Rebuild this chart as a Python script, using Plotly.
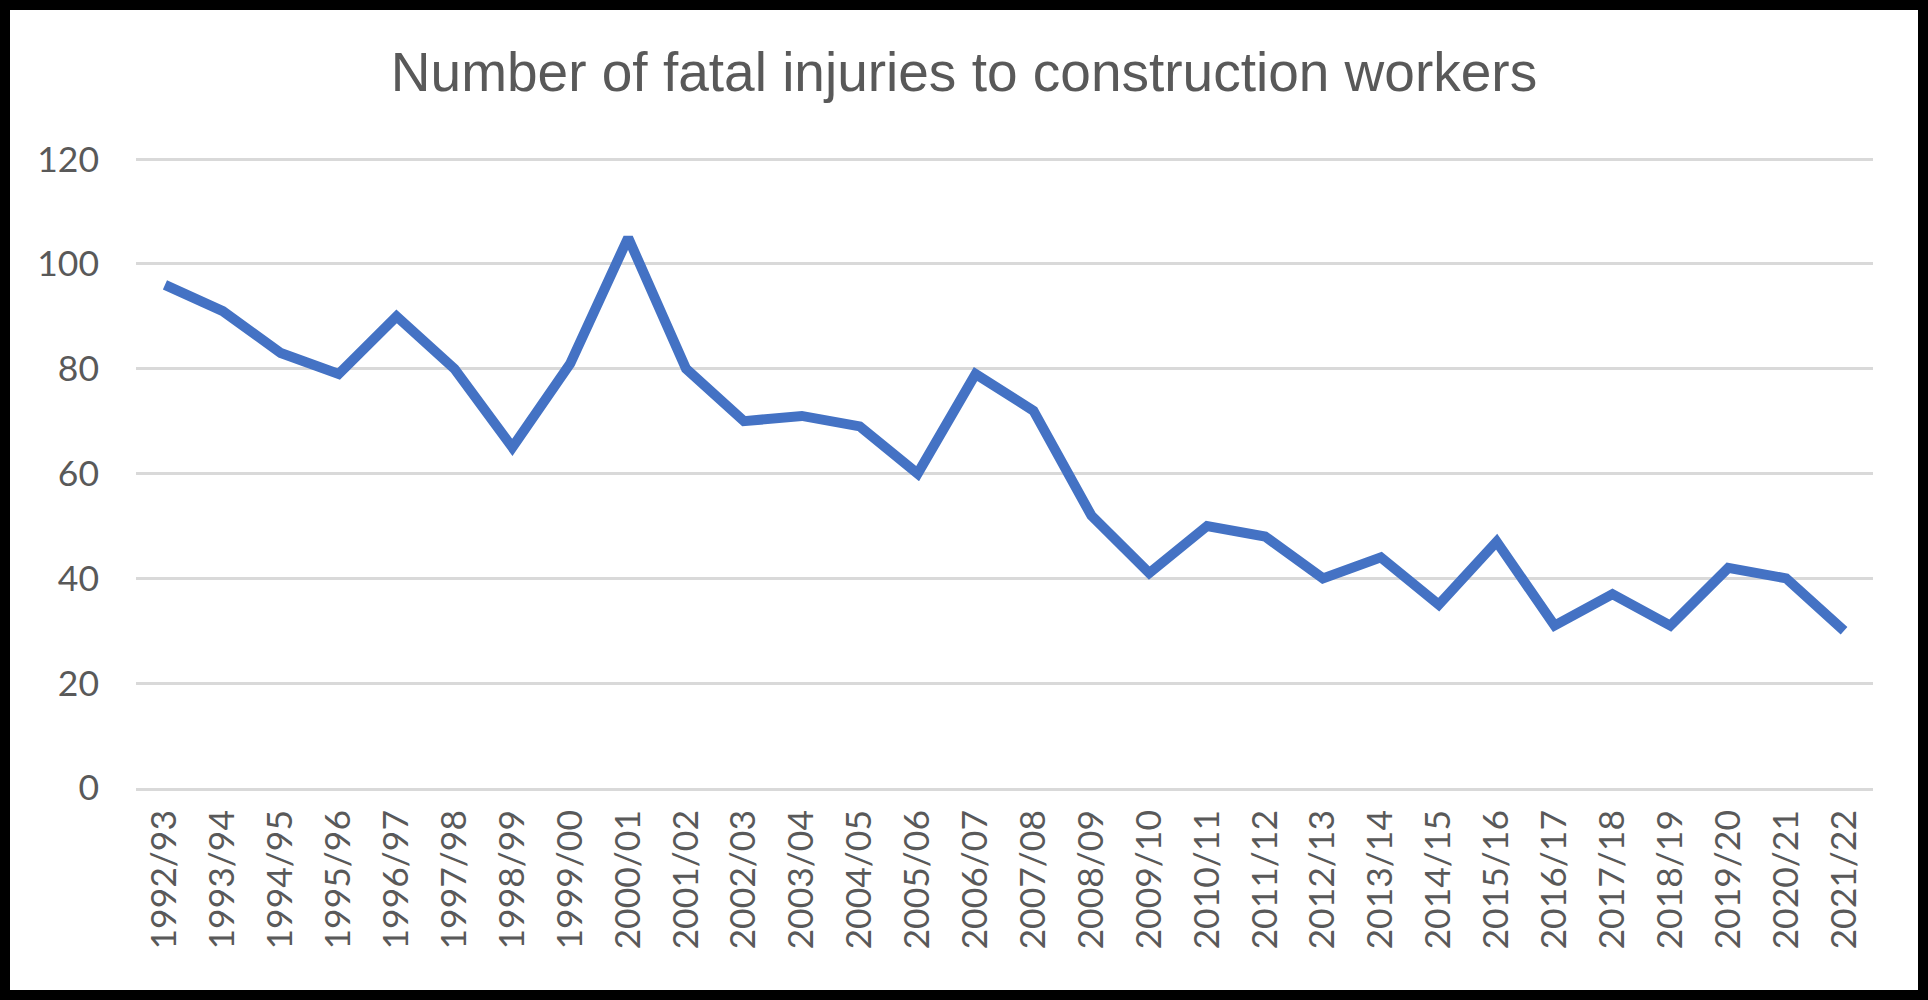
import plotly.graph_objects as go

# Financial years and fatal injuries
years = ['1992/93', '1993/94', '1994/95', '1995/96', '1996/97', '1997/98', '1998/99', '1999/00',
         '2000/01', '2001/02', '2002/03', '2003/04', '2004/05', '2005/06', '2006/07', '2007/08',
         '2008/09', '2009/10', '2010/11', '2011/12', '2012/13', '2013/14', '2014/15', '2015/16',
         '2016/17', '2017/18', '2018/19', '2019/20', '2020/21', '2021/22']
fatalities = [96, 91, 83, 79, 90, 80, 65, 81, 105, 80, 70, 71, 69, 60, 79, 72,
              52, 41, 50, 48, 40, 44, 35, 47, 31, 37, 31, 42, 40, 30]
y_ticks = [0, 20, 40, 60, 80, 100, 120]

W, H = 1928, 1000
ML, MR, MT, MB = 136, 55, 156, 212
plot_w = W - ML - MR
plot_h = H - MT - MB

fig = go.Figure()
fig.add_trace(go.Scatter(x=years, y=fatalities, mode='lines',
                         line=dict(color='#4472C4', width=10),
                         hoverinfo='x+y'))

# outer black frame round the whole picture
def px_x(p):
    return (p - ML) / plot_w

def px_y(p):
    return (H - p - MB) / plot_h

fig.add_shape(type='rect', xref='paper', yref='paper',
              x0=px_x(5), x1=px_x(W - 5), y0=px_y(H - 5), y1=px_y(5),
              line=dict(color='black', width=10), fillcolor='rgba(0,0,0,0)', layer='above')

tick_font = dict(family='Lato, Carlito, sans-serif', size=35.5, color='#595959')

fig.update_layout(
    width=W, height=H,
    margin=dict(l=ML, r=MR, t=MT, b=MB),
    paper_bgcolor='white', plot_bgcolor='white',
    showlegend=False,
    title=dict(text='Number of fatal injuries to construction workers',
               x=0.5, xref='container', xanchor='center',
               y=1 - 72 / H, yref='container', yanchor='middle',
               font=dict(family='Liberation Sans, Arial, sans-serif', size=55, color='#595959')),
)
fig.update_xaxes(type='category', range=[-0.5, len(years) - 0.5],
                 showgrid=False, showline=True, linecolor='#d9d9d9', linewidth=2.5,
                 ticks='', tickangle=-90, ticklabelstandoff=5, tickfont=tick_font)
# a little headroom above 120 so plotly still draws the top gridline
fig.update_yaxes(range=[0, 120.6], tickvals=y_ticks, showgrid=True, gridcolor='#d9d9d9', gridwidth=2.5,
                 zeroline=False, showline=False, ticks='', ticklabelstandoff=36, tickfont=tick_font)

# drop the default page margin so the figure sits flush in the window
fig.write_html("out.html", config={'displayModeBar': False},
               post_script="document.body.style.margin='0';document.body.style.overflow='hidden';")
